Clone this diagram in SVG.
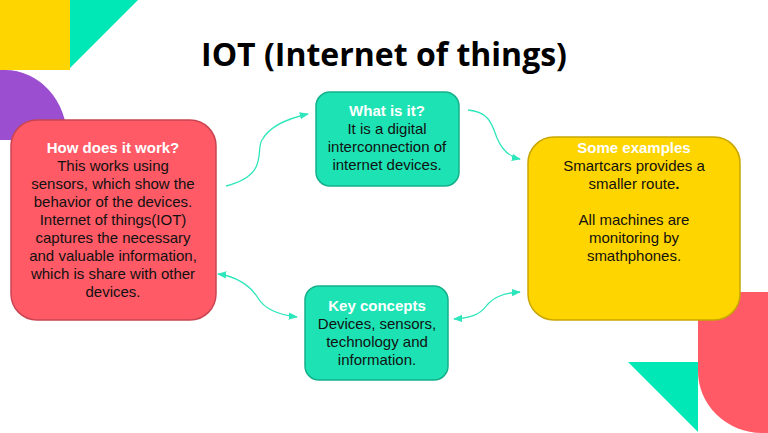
<svg xmlns="http://www.w3.org/2000/svg" width="768" height="433" viewBox="0 0 768 433">
<defs>
<style>
.t{font-family:"Liberation Sans",Arial,sans-serif;font-size:15px;text-anchor:middle;fill:#111}
.h{fill:#fff;font-weight:bold}
.c{fill:none;stroke:#2ee6bb;stroke-width:1.3}
</style>
<marker id="a" viewBox="0 0 10 10" refX="9" refY="5" markerWidth="7" markerHeight="7" orient="auto-start-reverse"><path d="M0,1 L10,5 L0,9 Z" fill="#2ee6bb"/></marker>
</defs>
<rect width="768" height="433" fill="#fff"/>
<rect x="0" y="0" width="70" height="70" fill="#FFD500"/>
<path d="M70,0 H138 L70,68 Z" fill="#00E8B5"/>
<path d="M0,70 H5 A62,68 0 0 1 67,138 V140 H0 Z" fill="#9B4FD0"/>
<path d="M698,292 H768 V433 H762 A64,62 0 0 1 698,371 Z" fill="#FF5A66"/>
<path d="M628,362 H698 V432 Z" fill="#00E8B5"/>
<text x="384" y="66" style="font-family:'Open Sans','DejaVu Sans',sans-serif;font-weight:bold;font-size:32px;text-anchor:middle;fill:#000">IOT (Internet of things)</text>
<g id="connectors">
<path class="c" d="M226,186 C270,175 255,150 262,140 C270,125 290,118 308,114" marker-end="url(#a)"/>
<path class="c" d="M468,110 C490,112 492,125 497,138 C502,150 510,157 520,159" marker-end="url(#a)"/>
<path class="c" d="M218,274 C235,276 250,285 258,298 C265,310 280,315 297,317" marker-start="url(#a)" marker-end="url(#a)"/>
<path class="c" d="M454,319 C470,318 480,315 487,305 C495,296 505,293 520,292" marker-start="url(#a)" marker-end="url(#a)"/>
</g>
<g id="how">
<rect x="11" y="120" width="205" height="200" rx="26" fill="#FF5A66" stroke="#c94452" stroke-width="1.5"/>
<text class="t"><tspan class="h" x="113" y="153">How does it work?</tspan><tspan x="113" y="171">This works using</tspan><tspan x="113" y="189">sensors, which show the</tspan><tspan x="113" y="207">behavior of the devices.</tspan><tspan x="113" y="225">Internet of things(IOT)</tspan><tspan x="113" y="243">captures the necessary</tspan><tspan x="113" y="261">and valuable information,</tspan><tspan x="113" y="279">which is share with other</tspan><tspan x="113" y="297">devices.</tspan></text>
</g>
<g id="what">
<rect x="316" y="92" width="143" height="94" rx="14" fill="#1DE3B4" stroke="#14b08c" stroke-width="1.5"/>
<text class="t"><tspan class="h" x="387" y="116">What is it?</tspan><tspan x="387" y="134">It is a digital</tspan><tspan x="387" y="152">interconnection of</tspan><tspan x="387" y="170">internet devices.</tspan></text>
</g>
<g id="key">
<rect x="305" y="286" width="143" height="94" rx="14" fill="#1DE3B4" stroke="#14b08c" stroke-width="1.5"/>
<text class="t"><tspan class="h" x="377" y="311">Key concepts</tspan><tspan x="377" y="329">Devices, sensors,</tspan><tspan x="377" y="347">technology and</tspan><tspan x="377" y="365">information.</tspan></text>
</g>
<g id="examples">
<rect x="528" y="137" width="212" height="183" rx="26" fill="#FFD500" stroke="#c9a600" stroke-width="1.5"/>
<text class="t"><tspan class="h" x="634" y="153">Some examples</tspan><tspan x="634" y="171">Smartcars provides a</tspan><tspan x="634" y="189">smaller route<tspan font-weight="bold">.</tspan></tspan><tspan x="634" y="225">All machines are</tspan><tspan x="634" y="243">monitoring by</tspan><tspan x="634" y="261">smathphones.</tspan></text>
</g>
</svg>
